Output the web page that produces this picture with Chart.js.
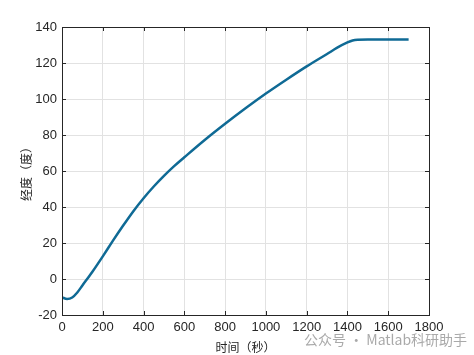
<!DOCTYPE html>
<html>
<head>
<meta charset="utf-8">
<script src="https://cdn.jsdelivr.net/npm/chart.js@4/dist/chart.umd.min.js"></script>
<style>
  html, body { margin: 0; padding: 0; background: #fff; }
  #wrap { width: 474px; height: 355px; }
</style>
</head>
<body>
<div id="wrap"><canvas id="lonChart"></canvas></div>
<script>
// time (s) and longitude (deg)
const timeSec = [0, 25, 50, 75, 100, 150, 200, 250, 300, 350, 400, 450, 500, 550, 600, 700, 800, 900, 1000, 1100, 1200, 1300, 1350, 1400, 1425, 1450, 1500, 1600, 1700];
const lonDeg = [-10.2, -11.1, -10.3, -7.5, -3.6, 4.2, 12.6, 21.3, 29.7, 37.7, 44.9, 51.4, 57.3, 62.7, 67.6, 77.2, 86.2, 94.8, 103, 110.7, 118.1, 125, 128.5, 131.4, 132.5, 132.9, 133, 133, 133];
const xTicks = [0, 200, 400, 600, 800, 1000, 1200, 1400, 1600, 1800];
const yTicks = [-20, 0, 20, 40, 60, 80, 100, 120, 140];

const axisColor = "#262626";
const tickFont = { family: "Liberation Sans, Arial, sans-serif", size: 13 };
const cjkFont = { family: "Noto Sans CJK SC, sans-serif", size: 12 };

// box + inward ticks like matlab, plus the watermark text
const boxPlugin = {
  id: "boxPlugin",
  afterDraw(chart) {
    const { ctx, chartArea: a, scales } = chart;
    ctx.save();
    ctx.strokeStyle = axisColor;
    ctx.lineWidth = 1;
    ctx.strokeRect(a.left + 0.5, a.top + 0.5, a.right - a.left, a.bottom - a.top);
    ctx.beginPath();
    xTicks.forEach(function (v) {
      const px = Math.round(scales.x.getPixelForValue(v)) + 0.5;
      ctx.moveTo(px, a.bottom); ctx.lineTo(px, a.bottom - 4);
      ctx.moveTo(px, a.top); ctx.lineTo(px, a.top + 4);
    });
    yTicks.forEach(function (v) {
      const py = Math.round(scales.y.getPixelForValue(v)) + 0.5;
      ctx.moveTo(a.left, py); ctx.lineTo(a.left + 4, py);
      ctx.moveTo(a.right, py); ctx.lineTo(a.right - 4, py);
    });
    ctx.stroke();

    ctx.font = "14px 'Noto Sans CJK SC', sans-serif";
    ctx.fillStyle = "rgba(140,140,140,0.75)";
    ctx.textBaseline = "middle";
    ctx.fillText("公众号 · Matlab科研助手", 304, 340);
    ctx.restore();
  },
};

new Chart(document.getElementById("lonChart"), {
  type: "scatter",
  data: {
    datasets: [
      {
        data: timeSec.map(function (t, i) { return { x: t, y: lonDeg[i] }; }),
        showLine: true,
        borderColor: "#0f6a95",
        borderWidth: 2.5,
        pointRadius: 0,
        cubicInterpolationMode: "monotone",
      },
    ],
  },
  options: {
    responsive: true,
    maintainAspectRatio: false,
    animation: false,
    layout: { padding: { top: 27, right: 45, left: 0, bottom: 0 } },
    plugins: { legend: { display: false }, tooltip: { enabled: false } },
    scales: {
      x: {
        type: "linear",
        min: 0,
        max: 1800,
        afterBuildTicks(scale) { scale.ticks = xTicks.map(function (v) { return { value: v }; }); },
        afterFit(scale) { scale.height = 40; },
        grid: { color: "#e2e2e2", drawTicks: false },
        border: { display: false },
        ticks: { color: axisColor, font: tickFont, padding: 5, maxRotation: 0, callback: function (v) { return String(v); } },
        title: { display: true, text: "时间（秒）", color: axisColor, font: cjkFont, padding: { top: 5, bottom: 0 } },
      },
      y: {
        min: -20,
        max: 140,
        afterBuildTicks(scale) { scale.ticks = yTicks.map(function (v) { return { value: v }; }); },
        afterFit(scale) { scale.width = 62; },
        grid: { color: "#e2e2e2", drawTicks: false },
        border: { display: false },
        ticks: { color: axisColor, font: tickFont, padding: 5, callback: function (v) { return String(v); } },
        title: { display: true, text: "经度（度）", color: axisColor, font: cjkFont, padding: { top: 19, bottom: 0 } },
      },
    },
  },
  plugins: [boxPlugin],
});
</script>
</body>
</html>
